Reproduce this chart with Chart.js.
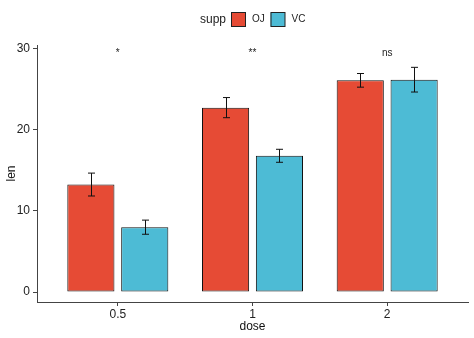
<!DOCTYPE html>
<html>
<head>
<meta charset="utf-8">
<script src="https://cdn.jsdelivr.net/npm/chart.js@4.4.0/dist/chart.umd.min.js"></script>
<style>
  html, body { margin: 0; padding: 0; background: #fff; }
  #wrap { width: 474px; height: 338px; }
</style>
</head>
<body>
<div id="wrap"><canvas id="myChart" width="474" height="338"></canvas></div>
<script>
// data: mean len +/- se per dose
const doses = ['0.5', '1', '2'];
const suppNames = ['OJ', 'VC'];
const ojMean = [13.23, 22.70, 26.06];
const ojSe = [1.41, 1.24, 0.84];
const vcMean = [7.98, 16.77, 26.14];
const vcSe = [0.87, 0.80, 1.52];
const sigLabels = ['*', '**', 'ns'];
const sigY = 29;
const yTicks = [0, 10, 20, 30];

const fontFamily = '"Liberation Sans", Arial, sans-serif';
Chart.defaults.font.family = fontFamily;
Chart.defaults.color = '#222';

const axisColor = '#444';

// error bars drawn on top of the bars
const errorBars = {
    id: 'errorBars',
    afterDatasetsDraw(chart) {
        const ctx = chart.ctx;
        const y = chart.scales.y;
        chart.data.datasets.forEach((ds, di) => {
            const meta = chart.getDatasetMeta(di);
            meta.data.forEach((bar, i) => {
                const m = ds.data[i].y;
                const e = ds.se[i];
                const top = y.getPixelForValue(m + e);
                const bot = y.getPixelForValue(m - e);
                const x = Math.round(bar.x) + 0.5;
                ctx.save();
                ctx.strokeStyle = '#111';
                ctx.lineWidth = 1;
                ctx.beginPath();
                ctx.moveTo(x, top);
                ctx.lineTo(x, bot);
                ctx.moveTo(x - 3.5, top);
                ctx.lineTo(x + 3.5, top);
                ctx.moveTo(x - 3.5, bot);
                ctx.lineTo(x + 3.5, bot);
                ctx.stroke();
                ctx.restore();
            });
        });
    }
};

// significance labels above each dose group
const sigText = {
    id: 'sigText',
    afterDatasetsDraw(chart) {
        const ctx = chart.ctx;
        const xs = chart.scales.x, ys = chart.scales.y;
        ctx.save();
        ctx.font = '10px ' + fontFamily;
        ctx.fillStyle = '#222';
        ctx.textAlign = 'center';
        ctx.textBaseline = 'alphabetic';
        sigLabels.forEach((t, i) => {
            ctx.fillText(t, xs.getPixelForValue(i + 1), ys.getPixelForValue(sigY));
        });
        ctx.restore();
    }
};

// ggplot style legend at the top: title then keys in one row
const topLegend = {
    id: 'topLegend',
    afterDraw(chart) {
        const ctx = chart.ctx;
        const cy = 19.5;
        ctx.save();
        ctx.textBaseline = 'middle';
        ctx.textAlign = 'left';
        ctx.fillStyle = '#222';
        ctx.font = '12px ' + fontFamily;
        ctx.fillText('supp', 200, cy);
        let x = 231;
        chart.data.datasets.forEach(ds => {
            ctx.fillStyle = ds.backgroundColor;
            ctx.fillRect(x, 12.5, 14.5, 14);
            ctx.strokeStyle = '#222';
            ctx.lineWidth = 1;
            ctx.strokeRect(x + 0.5, 12.5, 14, 14);
            ctx.fillStyle = '#222';
            ctx.font = '10px ' + fontFamily;
            ctx.fillText(ds.label, x + 21, cy);
            x += 39.5;
        });
        ctx.restore();
    }
};

const ctx = document.getElementById('myChart').getContext('2d');
const myChart = new Chart(ctx, {
    type: 'bar',
    data: {
        datasets: [
            {
                label: suppNames[0],
                data: ojMean.map((v, i) => ({ x: i + 1, y: v })),
                se: ojSe,
                backgroundColor: '#E64B35',
                borderColor: '#111',
                borderWidth: 1,
                borderSkipped: false
            },
            {
                label: suppNames[1],
                data: vcMean.map((v, i) => ({ x: i + 1, y: v })),
                se: vcSe,
                backgroundColor: '#4DBBD5',
                borderColor: '#111',
                borderWidth: 1,
                borderSkipped: false
            }
        ]
    },
    options: {
        responsive: false,
        animation: false,
        categoryPercentage: 0.8,
        barPercentage: 0.875,
        layout: { padding: { top: 45, right: 6, left: 0, bottom: 0 } },
        plugins: {
            legend: { display: false },
            tooltip: { enabled: false }
        },
        scales: {
            x: {
                type: 'linear',
                min: 0.4,
                max: 3.6,
                offset: false,
                afterBuildTicks: s => { s.ticks = doses.map((d, i) => ({ value: i + 1 })); },
                afterFit: s => { s.height = 36; },
                ticks: {
                    callback: v => doses[v - 1],
                    font: { size: 12 },
                    color: '#222',
                    padding: 1
                },
                grid: { offset: false, drawOnChartArea: false, drawTicks: true, tickLength: 4, color: axisColor },
                border: { display: true, color: axisColor, width: 1 },
                title: { display: true, text: 'dose', font: { size: 12 }, color: '#111', padding: 4 }
            },
            y: {
                min: -1.23,
                max: 30.41,
                afterBuildTicks: s => { s.ticks = yTicks.map(v => ({ value: v })); },
                afterFit: s => { s.width = 37; },
                ticks: { font: { size: 12 }, color: '#222', padding: 3 },
                grid: { drawOnChartArea: false, drawTicks: true, tickLength: 4, color: axisColor },
                border: { display: true, color: axisColor, width: 1 },
                title: { display: true, text: 'len', font: { size: 12 }, color: '#111', padding: 4 }
            }
        }
    },
    plugins: [errorBars, sigText, topLegend]
});
</script>
</body>
</html>
